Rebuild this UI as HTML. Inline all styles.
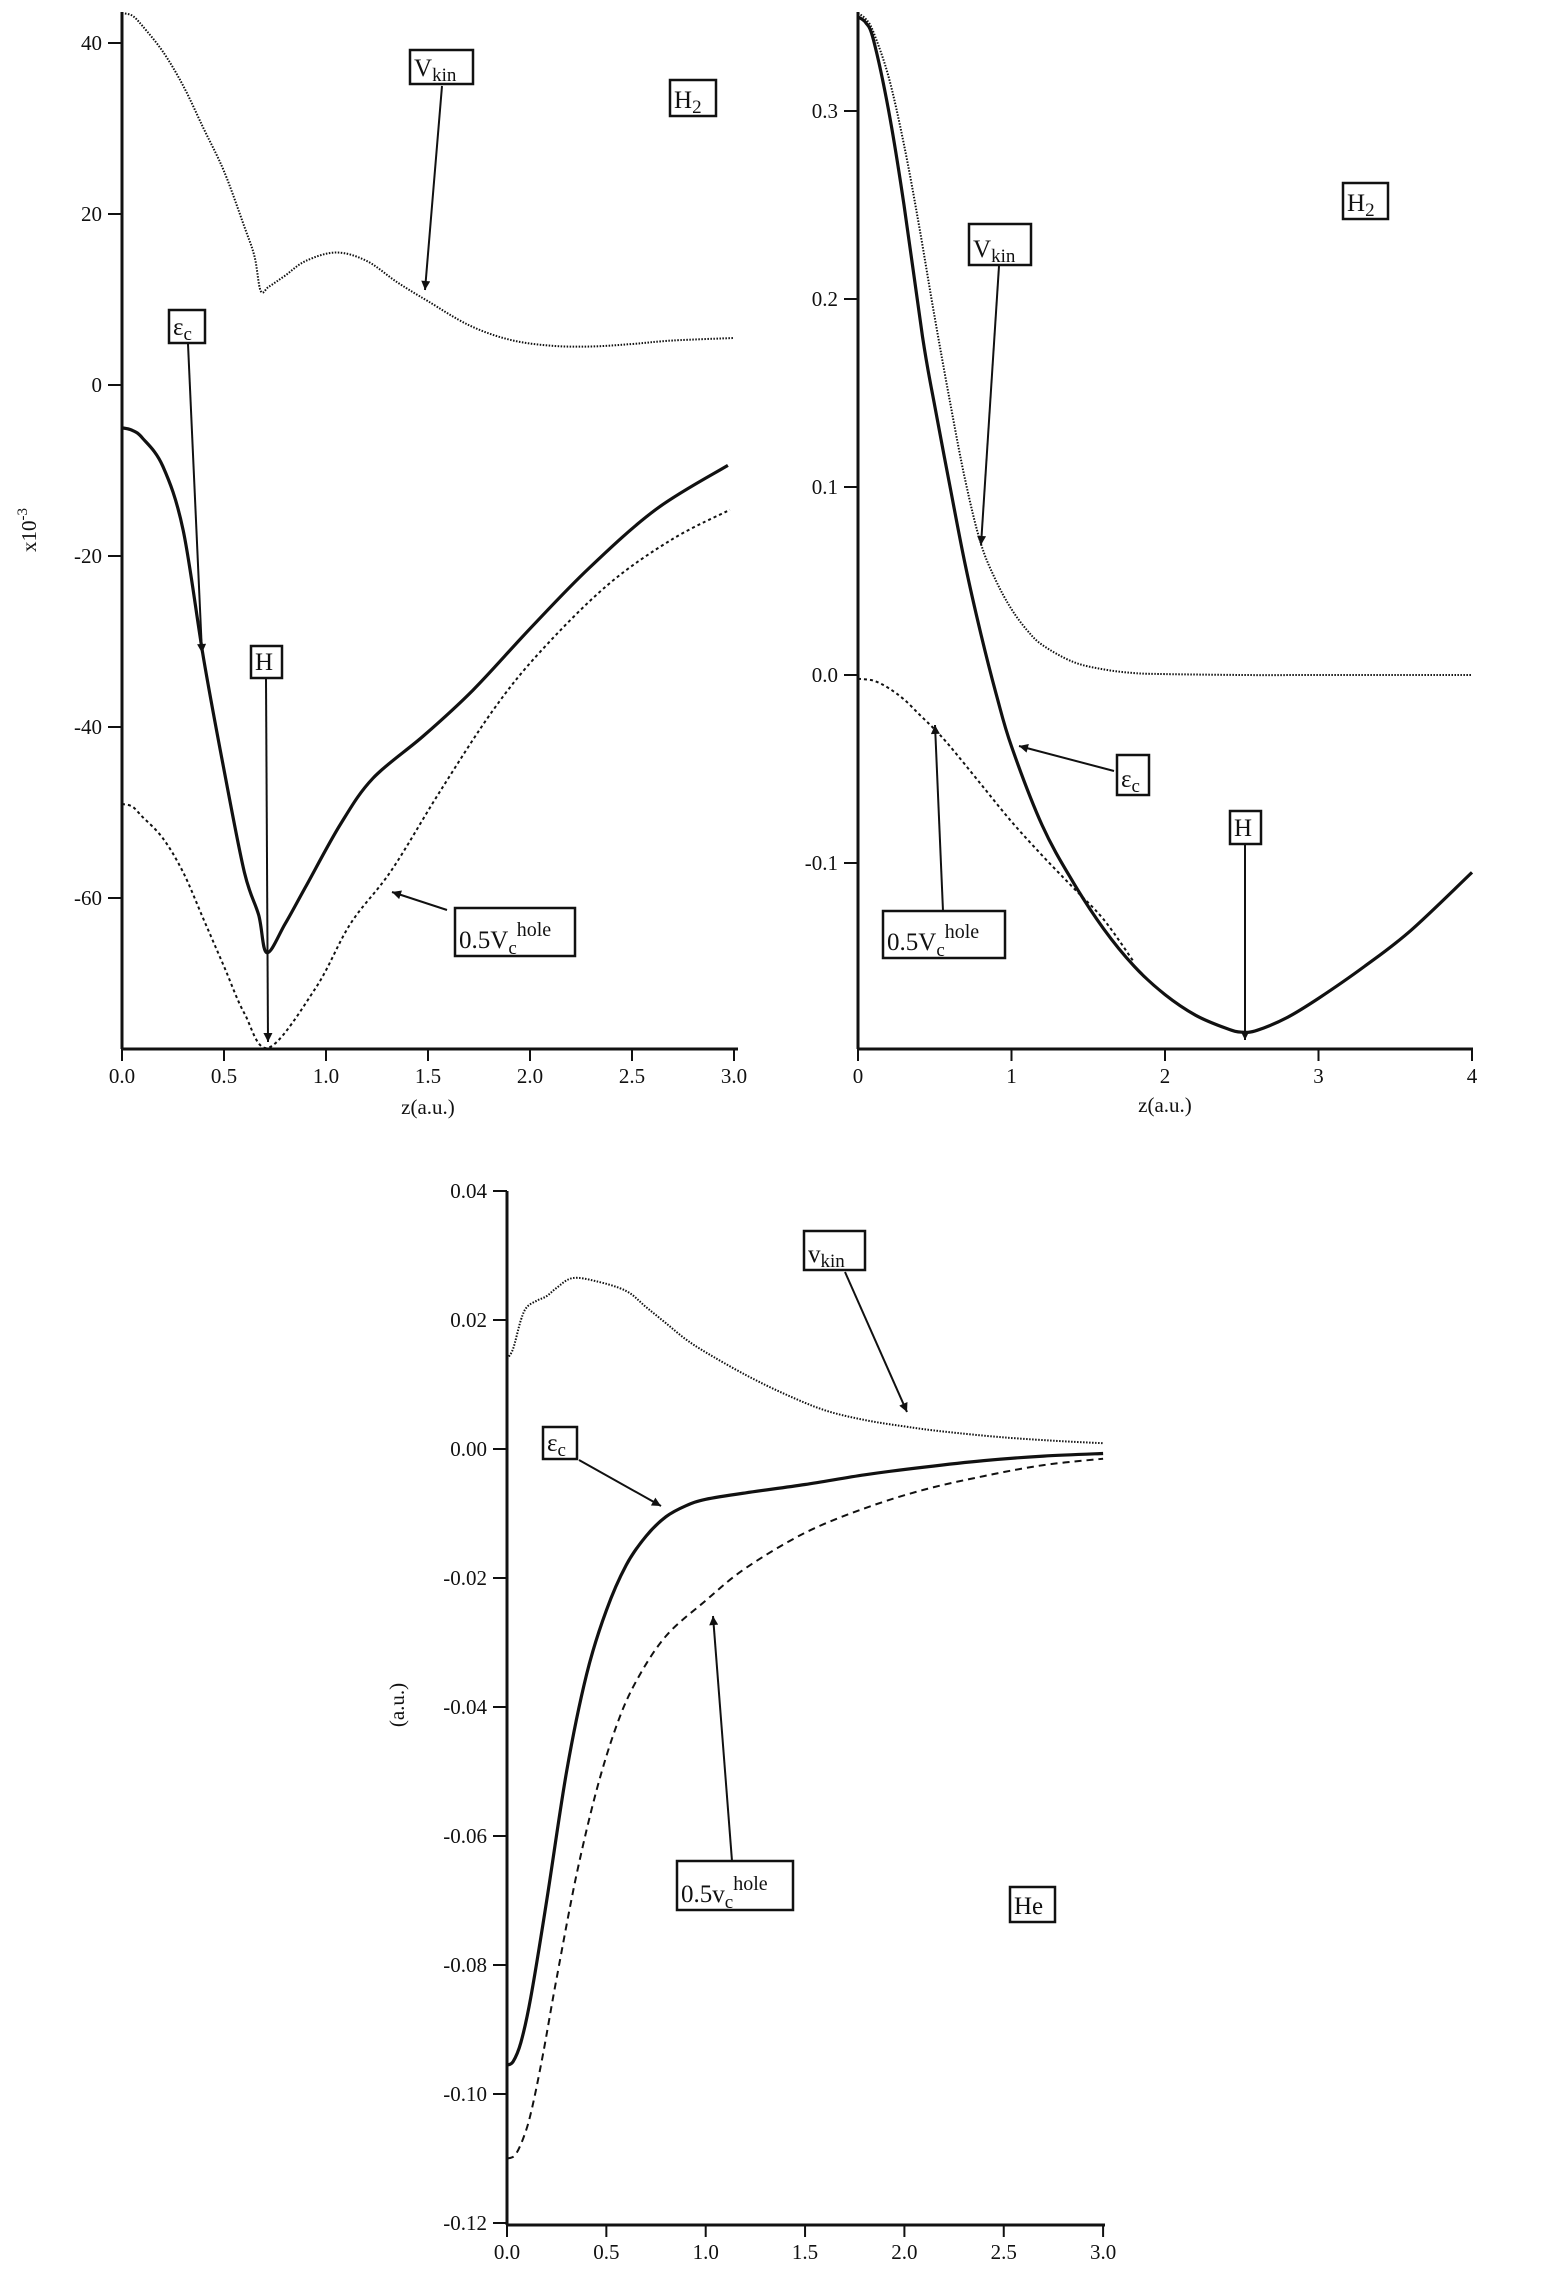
<!DOCTYPE html>
<html><head><meta charset="utf-8"><style>
html,body{margin:0;padding:0;background:#fff;}
svg{display:block;font-family:"Liberation Serif",serif;}
.tick{font-size:21px;fill:#111;}
.lab{font-size:25px;fill:#111;}
</style></head><body>
<svg id="fig" width="1548" height="2276" viewBox="0 0 1548 2276" xmlns="http://www.w3.org/2000/svg">
<defs><marker id="ah2" viewBox="0 0 10 10" refX="10" refY="5" markerWidth="22" markerHeight="9" orient="auto" markerUnits="userSpaceOnUse"><path d="M0,0 L10,5 L0,10 z" fill="#111"/></marker></defs>
<g id="p1"></g>
<g id="p2"></g>
<g id="p3"></g>
</svg>
<script>
// Panel 1 (H2, x10^-3)
const p1X = [0,0.05,0.1,0.2,0.3,0.4,0.5,0.6,0.65,0.68,0.72,0.8,0.9,1.05,1.2,1.35,1.5,1.7,1.9,2.1,2.3,2.5,2.7,3.0];
const p1Vkin = [43.5,43.2,42,39,35,30,25,18.5,15,11,11.5,12.8,14.5,15.5,14.5,12,9.8,7,5.3,4.6,4.5,4.8,5.2,5.5];
const p1EcX = [0,0.05,0.1,0.2,0.3,0.4,0.5,0.6,0.67,0.71,0.8,0.9,1.07,1.23,1.48,1.72,2.0,2.29,2.62,2.97];
const p1Ec = [-5,-5.3,-6.2,-9.5,-17,-32,-45,-57,-62,-66.4,-63,-58.7,-51.4,-46,-41,-35.7,-28.5,-21.4,-14.5,-9.4];
const p1HoleX = [0,0.05,0.1,0.2,0.3,0.4,0.5,0.6,0.72,0.95,1.12,1.32,1.56,1.82,2.05,2.38,2.7,2.98];
const p1Hole = [-49,-49.3,-50.5,-53,-57,-62.5,-68,-73.5,-77.5,-70.5,-63,-56.8,-47.5,-38,-31.2,-23.4,-18,-14.6];
const p1XTicks = ["0.0","0.5","1.0","1.5","2.0","2.5","3.0"];
const p1YTicks = [40,20,0,-20,-40,-60];
// Panel 2 (H2)
const p2X = [0,0.05,0.1,0.2,0.3,0.4,0.5,0.6,0.7,0.8,0.9,1.0,1.1,1.2,1.4,1.6,1.8,2.0,2.5,3.0,3.5,4.0];
const p2Vkin = [0.352,0.349,0.342,0.318,0.282,0.238,0.19,0.145,0.103,0.07,0.05,0.035,0.024,0.016,0.007,0.003,0.001,0.0005,0,0,0,0];
const p2EcX = [0,0.05,0.1,0.2,0.3,0.42,0.5,0.6,0.7,0.8,0.9,1.0,1.2,1.4,1.6,1.8,2.0,2.2,2.4,2.5,2.6,2.8,3.0,3.3,3.6,4.0];
const p2Ec = [0.35,0.347,0.338,0.3,0.25,0.18,0.143,0.1,0.058,0.022,-0.01,-0.038,-0.08,-0.11,-0.135,-0.155,-0.17,-0.181,-0.188,-0.19,-0.189,-0.182,-0.172,-0.155,-0.136,-0.105];
const p2HoleX = [0,0.1,0.2,0.3,0.4,0.5,0.6,0.8,1.0,1.2,1.4,1.6,1.8];
const p2Hole = [-0.002,-0.003,-0.007,-0.013,-0.021,-0.029,-0.038,-0.058,-0.078,-0.096,-0.113,-0.13,-0.153];
const p2XTicks = ["0","1","2","3","4"];
const p2YTicks = ["0.3","0.2","0.1","0.0","-0.1"];
// Panel 3 (He)
const p3X = [0,0.03,0.07,0.1,0.15,0.2,0.25,0.33,0.45,0.6,0.7,0.8,0.9,1.0,1.2,1.4,1.6,1.8,2.0,2.2,2.5,2.8,3.0];
const p3Vkin = [0.014,0.0155,0.02,0.022,0.023,0.0237,0.025,0.0265,0.026,0.0245,0.022,0.0195,0.017,0.015,0.0115,0.0085,0.006,0.0045,0.0035,0.0027,0.0018,0.0012,0.0009];
const p3EcX = [0,0.03,0.07,0.12,0.2,0.3,0.4,0.5,0.6,0.7,0.8,0.9,1.0,1.2,1.5,1.8,2.1,2.4,2.7,3.0];
const p3Ec = [-0.0955,-0.095,-0.092,-0.085,-0.07,-0.05,-0.035,-0.025,-0.018,-0.0135,-0.0105,-0.0088,-0.0078,-0.0068,-0.0055,-0.004,-0.0028,-0.0018,-0.0011,-0.0007];
const p3HoleX = [0,0.04,0.08,0.12,0.18,0.25,0.35,0.45,0.55,0.65,0.8,1.0,1.2,1.5,1.8,2.1,2.4,2.7,3.0];
const p3Hole = [-0.11,-0.1095,-0.107,-0.103,-0.094,-0.082,-0.066,-0.053,-0.043,-0.036,-0.029,-0.0235,-0.0185,-0.013,-0.0092,-0.0063,-0.0042,-0.0025,-0.0015];
const p3XTicks = ["0.0","0.5","1.0","1.5","2.0","2.5","3.0"];
const p3YTicks = ["0.04","0.02","0.00","-0.02","-0.04","-0.06","-0.08","-0.10","-0.12"];

const NS="http://www.w3.org/2000/svg";
function mk(parent,tag,attrs){const e=document.createElementNS(NS,tag);for(const k in attrs)e.setAttribute(k,attrs[k]);parent.appendChild(e);return e;}
function smooth(pts){let d="M"+pts[0][0].toFixed(1)+","+pts[0][1].toFixed(1);
 for(let i=0;i<pts.length-1;i++){const p0=pts[Math.max(0,i-1)],p1=pts[i],p2=pts[i+1],p3=pts[Math.min(pts.length-1,i+2)];
 const c1=[p1[0]+(p2[0]-p0[0])/6,p1[1]+(p2[1]-p0[1])/6],c2=[p2[0]-(p3[0]-p1[0])/6,p2[1]-(p3[1]-p1[1])/6];
 d+=" C"+c1[0].toFixed(1)+","+c1[1].toFixed(1)+" "+c2[0].toFixed(1)+","+c2[1].toFixed(1)+" "+p2[0].toFixed(1)+","+p2[1].toFixed(1);}return d;}
function series(g,xs,ys,sx,sy,style,name){const pts=xs.map((x,i)=>[sx(x),sy(ys[i])]);
 const p=mk(g,"path",Object.assign({d:smooth(pts),fill:"none",stroke:"#111"},style));
 
 }
function axes(g,cfg){const {x0,xR,yT,yB,xTicks,xTickVals,sx,yTicks,yTickVals,sy}=cfg;
 const ya=mk(g,"line",{x1:x0,y1:yT,x2:x0,y2:yB,stroke:"#111","stroke-width":3});
 
 
 const xa=mk(g,"line",{x1:x0,y1:yB,x2:xR,y2:yB,stroke:"#111","stroke-width":3});
 
 
 xTicks.forEach((t,i)=>{const x=sx(xTickVals[i]);mk(g,"line",{x1:x,y1:yB,x2:x,y2:yB+12,stroke:"#111","stroke-width":2});
  const tx=mk(g,"text",{x:x,y:yB+34,"text-anchor":"middle",class:"tick"});tx.textContent=t;
  
  });
 yTicks.forEach((t,i)=>{const y=sy(yTickVals[i]);mk(g,"line",{x1:x0-14,y1:y,x2:x0,y2:y,stroke:"#111","stroke-width":2});
  const tx=mk(g,"text",{x:x0-20,y:y+7,"text-anchor":"end",class:"tick"});tx.textContent=t;
  
  });}
function box(g,x,y,w,h,html,name,fs){const b=mk(g,"rect",{x:x,y:y,width:w,height:h,fill:"#fff",stroke:"#111","stroke-width":2.5});
 
 
 const t=mk(g,"text",{x:x+4,y:y+h-8,class:"lab","font-size":fs||25});t.innerHTML=html;
 
 }
function arrow(g,x1,y1,x2,y2,name){const a=mk(g,"line",{x1:x1,y1:y1,x2:x2,y2:y2,stroke:"#111","stroke-width":2,"marker-end":"url(#ah2)"});
 
 }
function text(g,x,y,str,name,extra){const t=mk(g,"text",Object.assign({x:x,y:y,class:"tick","text-anchor":"middle"},extra||{}));t.innerHTML=str;
 
 }

// ---- panel 1
(function(){const g=document.getElementById("p1");
 const sx=x=>122+x*204, sy=v=>385-v*8.55;
 axes(g,{x0:122,xR:738,yT:12,yB:1049,xTicks:p1XTicks,xTickVals:[0,0.5,1,1.5,2,2.5,3],sx,yTicks:p1YTicks.map(String),yTickVals:p1YTicks,sy});
 series(g,p1X,p1Vkin,sx,sy,{"stroke-width":2,"stroke-dasharray":"1.5 1.5"},"vkin-curve");
 series(g,p1EcX,p1Ec,sx,sy,{"stroke-width":3.2},"epsilon-c-curve");
 series(g,p1HoleX,p1Hole,sx,sy,{"stroke-width":2,"stroke-dasharray":"3 3"},"hole-curve");
 text(g,36,530,"x10<tspan dy='-9' font-size='15'>-3</tspan>","y-axis-title",{transform:"rotate(-90 36 530)"});
 text(g,428,1114,"z(a.u.)","x-axis-title");
 box(g,410,50,63,34,"V<tspan dy='5' font-size='19'>kin</tspan>","vkin-annotation");
 arrow(g,442,86,425,290,"vkin-arrow");
 box(g,670,80,46,36,"H<tspan dy='5' font-size='19'>2</tspan>","h2-annotation");
 box(g,169,310,36,33,"ε<tspan dy='5' font-size='19'>c</tspan>","epsilon-c-annotation");
 arrow(g,188,344,202,653,"epsilon-c-arrow");
 box(g,251,646,31,32,"H","h-annotation");
 arrow(g,266,679,268,1042,"h-arrow");
 box(g,455,908,120,48,"0.5V<tspan dy='6' font-size='19'>c</tspan><tspan dy='-18' font-size='20'>hole</tspan>","hole-annotation");
 arrow(g,447,910,392,892,"hole-arrow");
})();
// ---- panel 2
(function(){const g=document.getElementById("p2");
 const sx=x=>858+x*153.5, sy=v=>675-v*1880;
 axes(g,{x0:858,xR:1473,yT:12,yB:1049,xTicks:p2XTicks,xTickVals:[0,1,2,3,4],sx,yTicks:p2YTicks,yTickVals:[0.3,0.2,0.1,0,-0.1],sy});
 series(g,p2X,p2Vkin,sx,sy,{"stroke-width":2,"stroke-dasharray":"1.5 1.5"},"vkin-curve");
 series(g,p2EcX,p2Ec,sx,sy,{"stroke-width":3.2},"epsilon-c-curve");
 series(g,p2HoleX,p2Hole,sx,sy,{"stroke-width":2,"stroke-dasharray":"3 3"},"hole-curve");
 text(g,1165,1112,"z(a.u.)","x-axis-title");
 box(g,969,224,62,41,"V<tspan dy='5' font-size='19'>kin</tspan>","vkin-annotation");
 arrow(g,999,266,981,545,"vkin-arrow");
 box(g,1343,183,45,36,"H<tspan dy='5' font-size='19'>2</tspan>","h2-annotation");
 box(g,1117,755,32,40,"ε<tspan dy='5' font-size='19'>c</tspan>","epsilon-c-annotation");
 arrow(g,1114,771,1019,746,"epsilon-c-arrow");
 box(g,1230,811,31,33,"H","h-annotation");
 arrow(g,1245,845,1245,1040,"h-arrow");
 box(g,883,911,122,47,"0.5V<tspan dy='6' font-size='19'>c</tspan><tspan dy='-18' font-size='20'>hole</tspan>","hole-annotation");
 arrow(g,943,911,935,725,"hole-arrow");
})();
// ---- panel 3
(function(){const g=document.getElementById("p3");
 const sx=x=>507+x*198.7, sy=v=>1449-v*6450;
 axes(g,{x0:507,xR:1105,yT:1191,yB:2225,xTicks:p3XTicks,xTickVals:[0,0.5,1,1.5,2,2.5,3],sx,yTicks:p3YTicks,yTickVals:[0.04,0.02,0,-0.02,-0.04,-0.06,-0.08,-0.10,-0.12],sy});
 series(g,p3X,p3Vkin,sx,sy,{"stroke-width":2,"stroke-dasharray":"1.5 1.5"},"vkin-curve");
 series(g,p3EcX,p3Ec,sx,sy,{"stroke-width":3.2},"epsilon-c-curve");
 series(g,p3HoleX,p3Hole,sx,sy,{"stroke-width":2,"stroke-dasharray":"7 5"},"hole-curve");
 text(g,404,1705,"(a.u.)","y-axis-title",{transform:"rotate(-90 404 1705)"});
 box(g,804,1231,61,39,"v<tspan dy='5' font-size='19'>kin</tspan>","vkin-annotation");
 arrow(g,845,1272,907,1412,"vkin-arrow");
 box(g,543,1427,34,32,"ε<tspan dy='5' font-size='19'>c</tspan>","epsilon-c-annotation");
 arrow(g,579,1460,661,1506,"epsilon-c-arrow");
 box(g,677,1861,116,49,"0.5v<tspan dy='6' font-size='19'>c</tspan><tspan dy='-18' font-size='20'>hole</tspan>","hole-annotation");
 arrow(g,732,1861,713,1616,"hole-arrow");
 box(g,1010,1887,45,35,"He","he-annotation");
})();
</script>
</body></html>
